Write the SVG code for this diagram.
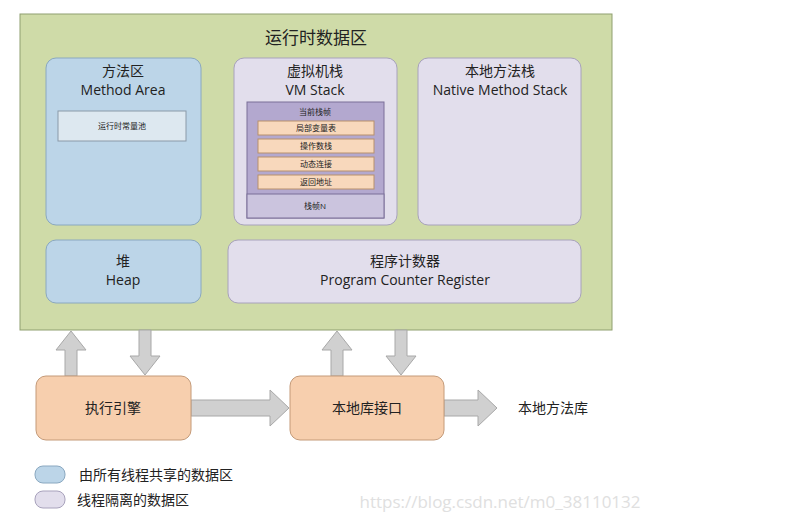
<svg xmlns="http://www.w3.org/2000/svg" width="795" height="528" viewBox="0 0 795 528">
<style>
text{font-family:"Open Sans","Noto Sans CJK SC",sans-serif;fill:#222;text-anchor:middle}
.t{font-size:14px}.s{font-size:8px}
.blue{fill:#bcd5e8;stroke:#8aa8c0;stroke-width:1}
.lav{fill:#e2deec;stroke:#a8a2bc;stroke-width:1}
.org{fill:#f7cfae;stroke:#c49a78;stroke-width:1}
.arr{fill:#d0d0d0;stroke:#a8a8a8;stroke-width:1}
</style>
<rect width="795" height="528" fill="#fff"/>
<g id="runtime"><rect x="20" y="14" width="592" height="316" fill="#cfdba8" stroke="#8f9f70"/><text x="316" y="44" font-size="17">运行时数据区</text></g>
<g id="method"><rect class="blue" x="46" y="58" width="155" height="167" rx="10"/><text class="t" x="123" y="76">方法区</text><text class="t" x="123" y="95">Method Area</text>
<rect x="58" y="111" width="128" height="30" fill="#dde8f0" stroke="#8a9aa8"/><text class="s" x="122" y="129">运行时常量池</text></g>
<g id="vmstack"><rect class="lav" x="234" y="58" width="163" height="167" rx="10"/><text class="t" x="315" y="76">虚拟机栈</text><text class="t" x="315" y="95">VM Stack</text>
<rect x="247" y="102" width="137" height="116" fill="#b3a8cf" stroke="#7a6f98"/><rect x="247" y="194" width="137" height="24" fill="#cbc4de" stroke="#7a6f98"/>
<text class="s" x="315" y="115">当前栈帧</text>
<g fill="#f8d8bc" stroke="#b8906c"><rect x="258" y="121" width="116" height="14"/><rect x="258" y="139" width="116" height="14"/><rect x="258" y="157" width="116" height="14"/><rect x="258" y="175" width="116" height="14"/></g>
<text class="s" x="316" y="131">局部变量表</text><text class="s" x="316" y="149">操作数栈</text><text class="s" x="316" y="167">动态连接</text><text class="s" x="316" y="185">返回地址</text><text class="s" x="315" y="209">栈帧N</text></g>
<g id="native"><rect class="lav" x="418" y="58" width="163" height="167" rx="10"/><text class="t" x="500" y="76">本地方法栈</text><text class="t" x="500" y="95">Native Method Stack</text></g>
<g id="heap"><rect class="blue" x="46" y="240" width="155" height="63" rx="10"/><text class="t" x="123" y="266">堆</text><text class="t" x="123" y="285">Heap</text></g>
<g id="pc"><rect class="lav" x="228" y="240" width="353" height="63" rx="10"/><text class="t" x="405" y="266">程序计数器</text><text class="t" x="405" y="285">Program Counter Register</text></g>
<g id="connectors">
<path class="arr" d="M65 376V350H56L71 331L86 350H77V376Z"/>
<path class="arr" d="M139 330V356H130L145 375L160 356H151V330Z"/>
<path class="arr" d="M331 376V350H322L337 331L352 350H343V376Z"/>
<path class="arr" d="M395 330V356H386L401 375L416 356H407V330Z"/>
<path class="arr" d="M191 400H270V390L289 408L270 426V416H191Z"/>
<path class="arr" d="M444 400H478V390L497 408L478 426V416H444Z"/>
</g>
<g id="exec"><rect class="org" x="36" y="376" width="155" height="64" rx="10"/><text class="t" x="113" y="413">执行引擎</text></g>
<g id="nli"><rect class="org" x="290" y="376" width="154" height="64" rx="10"/><text class="t" x="367" y="413">本地库接口</text></g>
<text class="t" x="553" y="413">本地方法库</text>
<g id="legend"><rect class="blue" x="35" y="466" width="30" height="17" rx="8"/><text class="t" x="156" y="480">由所有线程共享的数据区</text>
<rect class="lav" x="35" y="491" width="30" height="17" rx="8"/><text class="t" x="133" y="505">线程隔离的数据区</text></g>
<text x="500" y="508" font-size="17" style="fill:#e0e0e0">https://blog.csdn.net/m0_38110132</text>
</svg>
